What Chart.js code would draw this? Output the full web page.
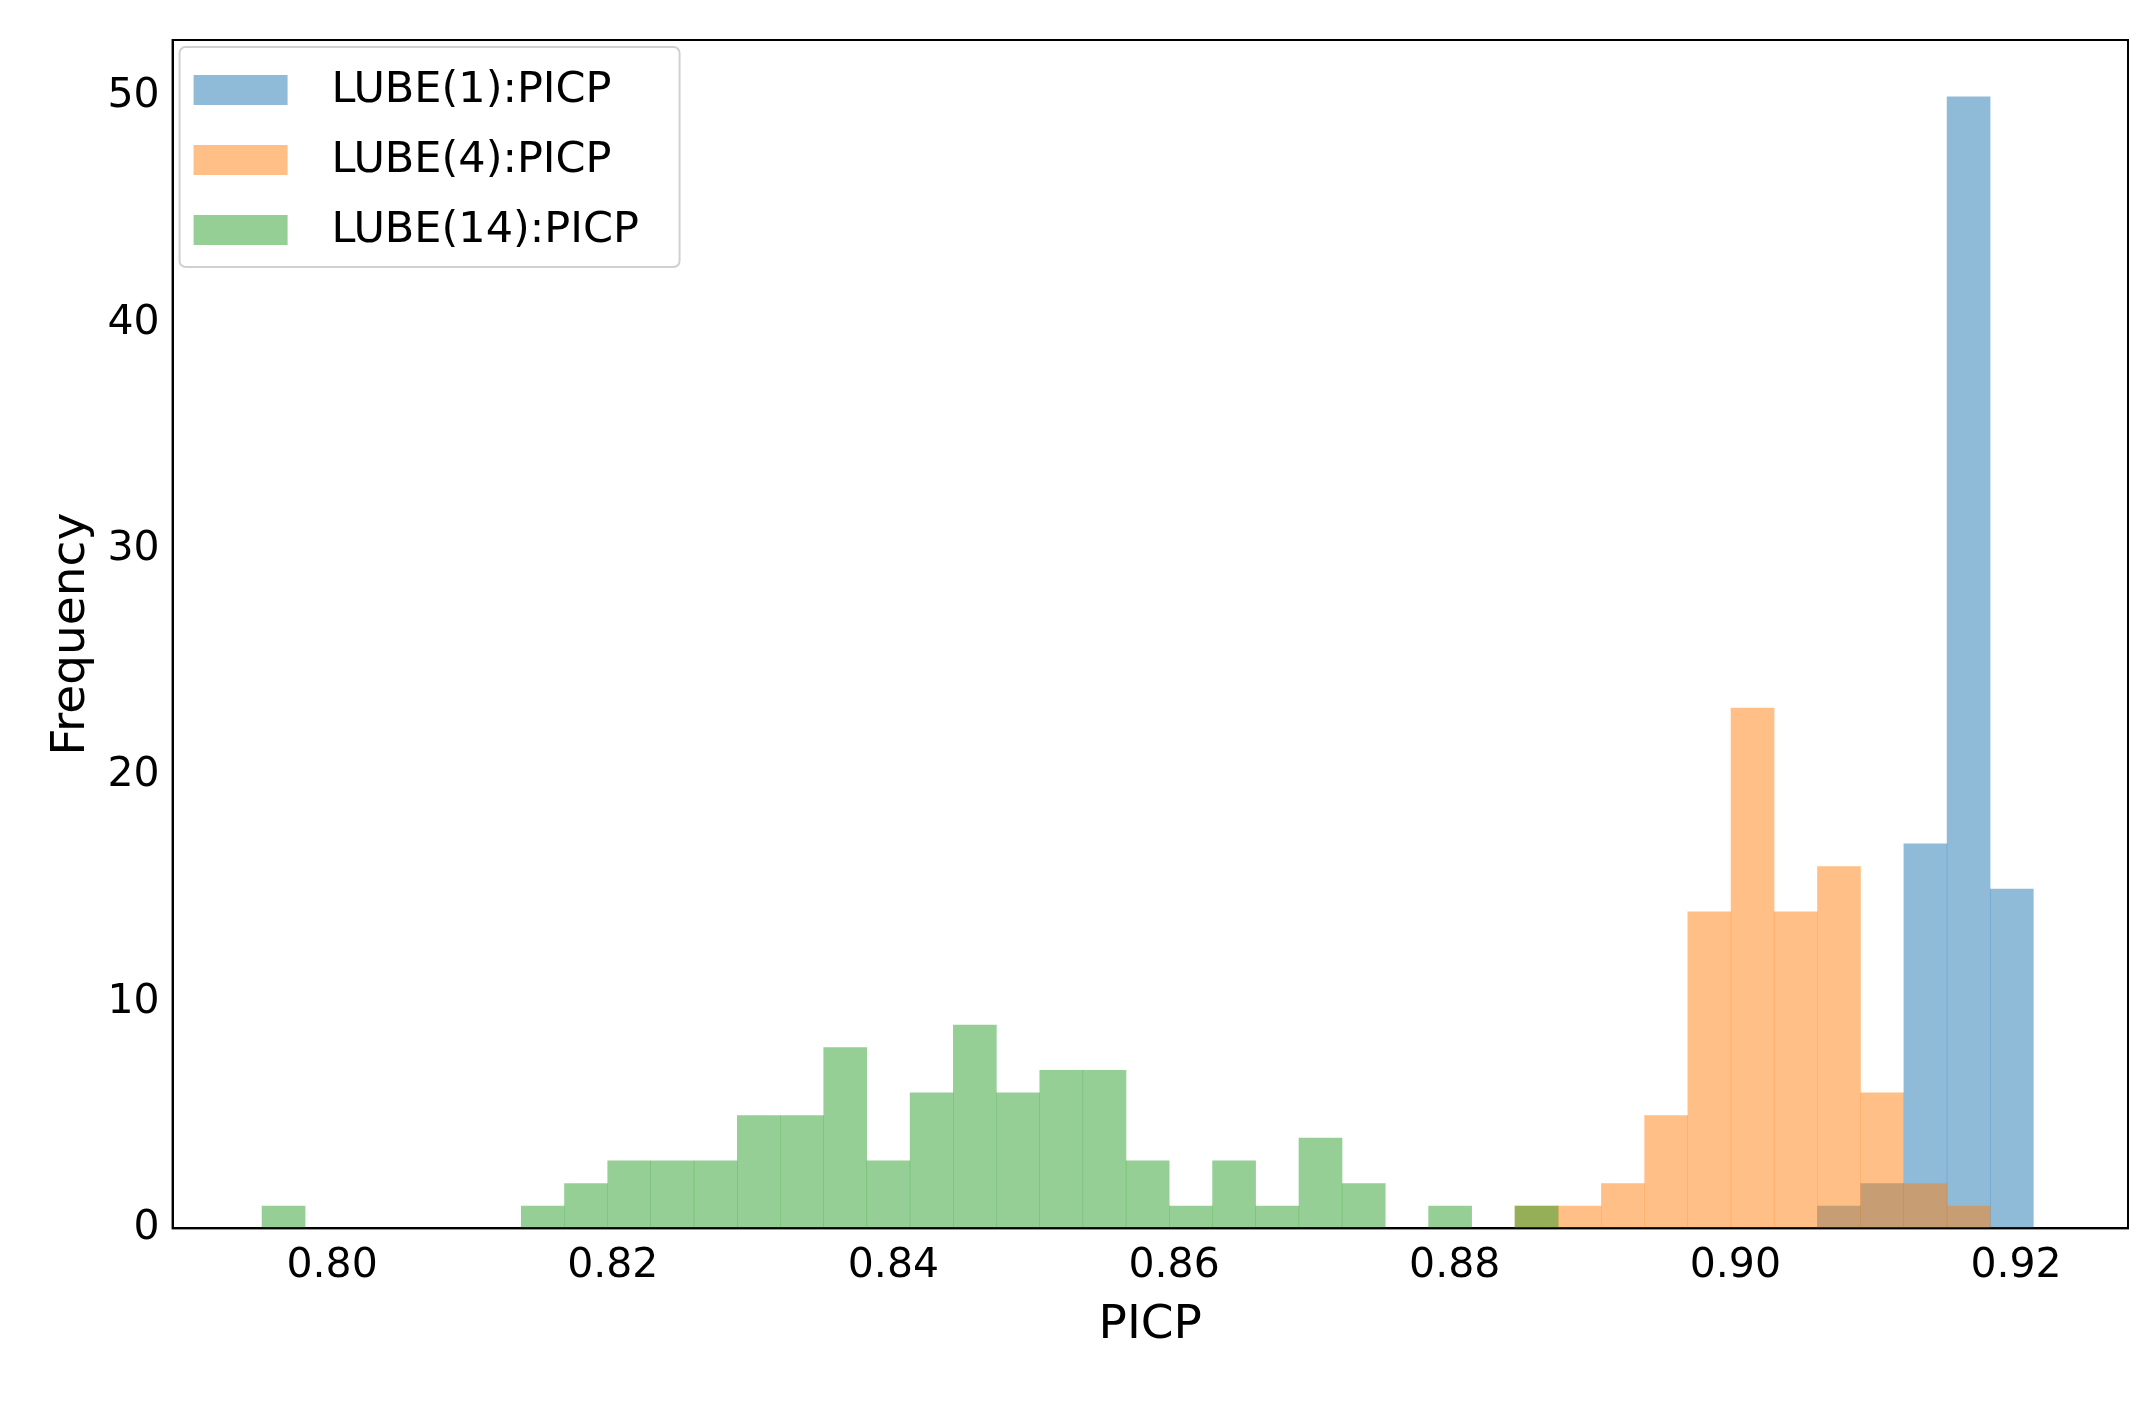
<!DOCTYPE html>
<html><head><meta charset="utf-8">
<script src="https://cdn.jsdelivr.net/npm/chart.js@4/dist/chart.umd.min.js"></script>
<style>html,body{margin:0;padding:0;background:#fff}#w{width:2150px;height:1408px}</style>
</head><body><div id="w"><canvas id="c"></canvas></div>
<script>
const binStart = 0.7950;
const binWidth = 0.003079;
const labels = ["LUBE(1):PICP", "LUBE(4):PICP", "LUBE(14):PICP"];
const blueCounts = [0,0,0,0,0,0,0,0,0,0,0,0,0,0,0,0,0,0,0,0,0,0,0,0,0,0,0,0,0,0,0,0,0,0,0,0,1,2,17,50,15];
const orangeCounts = [0,0,0,0,0,0,0,0,0,0,0,0,0,0,0,0,0,0,0,0,0,0,0,0,0,0,0,0,0,1,1,2,5,14,23,14,16,6,2,1,0];
const greenCounts = [1,0,0,0,0,0,1,2,3,3,3,5,5,8,3,6,9,6,7,7,3,1,3,1,4,2,0,1,0,1,0,0,0,0,0,0,0,0,0,0,0];
const xTicks = [0.80,0.82,0.84,0.86,0.88,0.90,0.92];
const yTicks = [0,10,20,30,40,50];
const colors = ["rgba(31,119,180,0.5)","rgba(255,127,14,0.5)","rgba(44,160,44,0.5)"];

const toPts = arr => arr.map((v,i)=>({x: binStart + binWidth*(i+0.5), y: v===0?null:v}));
const allSeries = [blueCounts, orangeCounts, greenCounts];
const datasets = allSeries.map((s,i)=>({
  label: labels[i], data: toPts(s), backgroundColor: colors[i], borderWidth:0,
  barPercentage:1.01, categoryPercentage:1, grouped:false, order: 3-i
}));

const legendPlugin = {
  id:'lg',
  afterDraw(chart){
    const ctx=chart.ctx, a=chart.chartArea;
    const x0=a.left+7, y0=a.top+7, w=500, h=220;
    ctx.save();
    ctx.fillStyle='rgba(255,255,255,0.8)'; ctx.strokeStyle='#d0d0d0'; ctx.lineWidth=2;
    ctx.beginPath(); ctx.roundRect(x0,y0,w,h,6); ctx.fill(); ctx.stroke();
    ctx.font='43px "DejaVu Sans"'; ctx.textBaseline='middle';
    labels.forEach((l,i)=>{
      const cy=y0+42+i*70;
      ctx.fillStyle=colors[i]; ctx.fillRect(x0+14,cy-14,94,30);
      ctx.fillStyle='#000'; ctx.fillText(l,x0+152,cy+2);
    });
    ctx.restore();
  }
};

new Chart(document.getElementById('c'),{
  type:'bar',
  data:{datasets},
  options:{
    responsive:true, maintainAspectRatio:false, animation:false,
    layout:{padding:{left:40,right:22,top:40,bottom:50}},
    plugins:{legend:{display:false},tooltip:{enabled:false}},
    scales:{
      x:{type:'linear', min:0.78863, max:0.92798, offset:false,
        grid:{display:false, drawTicks:true, tickLength:10, tickColor:'#000'},
        border:{color:'#000',width:2},
        afterBuildTicks(s){s.ticks=xTicks.map(v=>({value:v}));},
        ticks:{font:{size:41,family:'DejaVu Sans'},color:'#000',callback:v=>v.toFixed(2),maxRotation:0,autoSkip:false},
        title:{display:true,text:'PICP',font:{size:47,family:'DejaVu Sans'},color:'#000'}},
      y:{min:0,max:52.5,
        grid:{display:false, drawTicks:true, tickLength:10, tickColor:'#000'},
        border:{color:'#000',width:2},
        afterBuildTicks(s){s.ticks=yTicks.map(v=>({value:v}));},
        ticks:{font:{size:41,family:'DejaVu Sans'},color:'#000'},
        title:{display:true,text:'Frequency',font:{size:47,family:'DejaVu Sans'},color:'#000'}}
    }
  },
  plugins:[legendPlugin,{id:'frame',afterDraw(c){const a=c.chartArea,x=c.ctx;x.save();x.strokeStyle='#000';x.lineWidth=2;x.strokeRect(a.left,a.top,a.right-a.left,a.bottom-a.top);x.restore();}}]
});
</script></body></html>
